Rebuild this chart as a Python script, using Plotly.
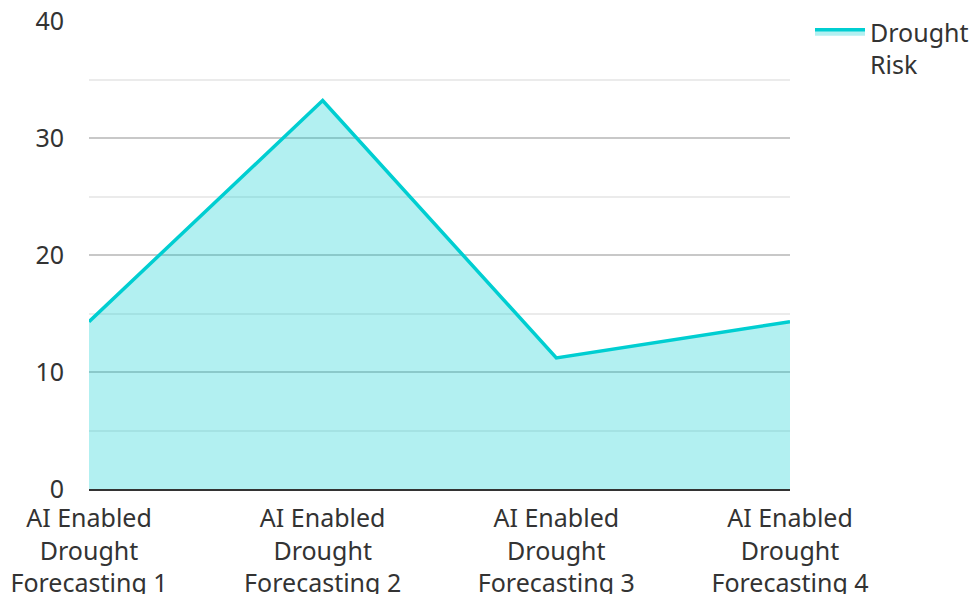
import plotly.graph_objects as go

# Drought risk scores per forecasting scenario
categories = [
    "AI Enabled<br>Drought<br>Forecasting 1",
    "AI Enabled<br>Drought<br>Forecasting 2",
    "AI Enabled<br>Drought<br>Forecasting 3",
    "AI Enabled<br>Drought<br>Forecasting 4",
]
drought_risk = [14.3, 33.2, 11.2, 14.3]
y_ticks = [0, 10, 20, 30, 40]

line_color = "#00CED1"
fill_color = "rgba(0, 206, 209, 0.3)"

fig = go.Figure()
fig.add_trace(
    go.Scatter(
        x=list(range(len(categories))),
        y=drought_risk,
        mode="lines",
        name="Drought<br>Risk",
        line=dict(color=line_color, width=3.5),
        fill="tozeroy",
        fillcolor=fill_color,
    )
)

fig.update_layout(
    width=976,
    height=594,
    margin=dict(l=89, r=186, t=21, b=105),
    paper_bgcolor="white",
    plot_bgcolor="white",
    font=dict(family="Noto Sans", size=25, color="#333333"),
    showlegend=True,
    legend=dict(
        x=810 / 976,
        y=1 - 9 / 594,
        xanchor="left",
        yanchor="top",
        xref="container",
        yref="container",
        valign="top",
        font=dict(size=25, color="#333333"),
        itemwidth=50,
        bgcolor="rgba(0,0,0,0)",
    ),
    xaxis=dict(
        tickmode="array",
        tickvals=list(range(len(categories))),
        ticktext=categories,
        range=[0, len(categories) - 1],
        showgrid=False,
        zeroline=False,
        showline=True,
        linecolor="#333333",
        linewidth=2,
        ticks="",
        automargin=False,
        ticklabelstandoff=6,
        tickfont=dict(size=25, color="#333333"),
    ),
    yaxis=dict(
        range=[0, 40],
        tickmode="array",
        tickvals=y_ticks,
        showgrid=True,
        gridcolor="#c8c8c8",
        gridwidth=2,
        zeroline=False,
        showline=False,
        ticks="",
        automargin=False,
        ticklabelstandoff=24,
        tickfont=dict(size=25, color="#333333"),
        minor=dict(
            tickmode="linear",
            tick0=0,
            dtick=5,
            showgrid=True,
            gridcolor="#ebebeb",
            gridwidth=2,
        ),
    ),
)

fig.write_html("out.html")
